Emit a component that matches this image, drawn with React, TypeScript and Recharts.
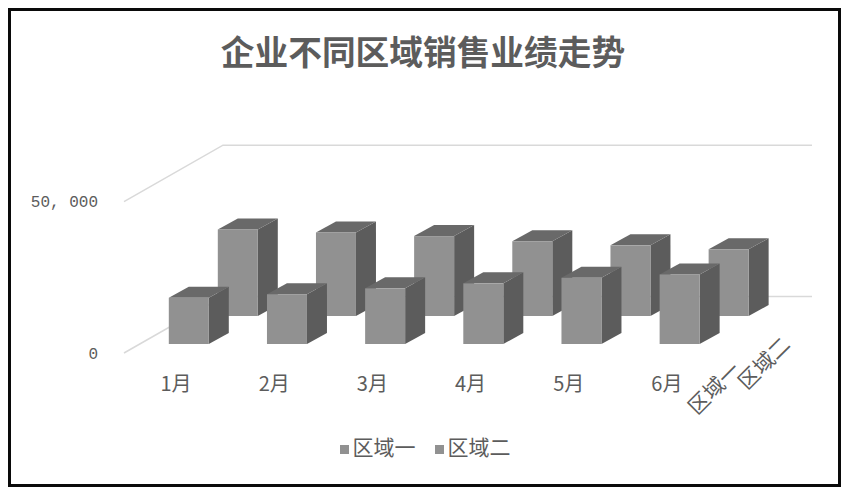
import { BarChart, Bar, XAxis, YAxis, CartesianGrid, Legend } from 'recharts'

const months = ['1月', '2月', '3月', '4月', '5月', '6月']
const region1 = [15300, 16450, 18400, 20050, 21900, 23000]
const region2 = [28600, 27600, 26400, 24700, 23350, 22050]
const seriesNames = ['区域一', '区域二']
const yTicks = [0, 50000]

const data = months.map((month, i) => ({ month, region1: region1[i], region2: region2[i] }))

const textColor = '#5c5c5c'
const faceColor = '#919191'
const topColor = '#696969'
const sideColor = '#5c5c5c'
const gridColor = '#d9d9d9'
const cjk = "'Noto Sans CJK SC', sans-serif"

// fake 3D: how far the floor runs back, and how far each bar's own depth goes
const wallDx = 99
const wallDy = -56.5
const barDx = 20
const barDy = -11

const Bar3D = (offsetX: number, offsetY: number) => (props: any) => {
  const x = props.x + offsetX
  const y = props.y + offsetY
  const { width: w, height: h } = props
  return (
    <g>
      <path d={`M${x + w},${y} l${barDx},${barDy} v${h} l${-barDx},${-barDy} z`} fill={sideColor} />
      <path d={`M${x},${y} l${barDx},${barDy} h${w} l${-barDx},${-barDy} z`} fill={topColor} />
      <rect x={x} y={y} width={w} height={h} fill={faceColor} />
    </g>
  )
}

const wallLine = (props: any) => {
  const { x1, x2, y1, key } = props
  return (
    <path
      key={key}
      d={`M${x1},${y1} L${x1 + wallDx},${y1 + wallDy} L${x2 + wallDx},${y1 + wallDy}`}
      fill="none"
      stroke={gridColor}
      strokeWidth={1.5}
    />
  )
}

export default function App() {
  return (
    <div style={{ width: 833, height: 479, boxSizing: 'border-box', border: '3px solid #0a0a0a', background: '#fff' }}>
      <BarChart
        width={827}
        height={473}
        data={data}
        barSize={40}
        barGap={-40}
        margin={{ top: 190.7, right: 125, bottom: 101, left: 23 }}
      >
        <text x={412} y={39} textAnchor="middle" dominantBaseline="central" fontFamily={cjk} fontSize={33.7} fontWeight={700} fill={textColor}>
          企业不同区域销售业绩走势
        </text>
        <CartesianGrid vertical={false} horizontal={wallLine} />
        <XAxis dataKey="month" axisLine={false} tickLine={false} tickSize={0} tickMargin={24} dx={3} tick={{ fontSize: 20, fontFamily: cjk, fill: textColor }} />
        <YAxis
          width={90}
          domain={[0, 50000]}
          ticks={yTicks}
          axisLine={false}
          tickLine={false}
          tickSize={0}
          tickMargin={26}
          tick={{ fontSize: 16, fontFamily: "'Liberation Mono', monospace", fill: textColor }}
          tickFormatter={(v: number) => v.toLocaleString('en-US').replace(',', ', ')}
        />
        <Legend
          layout="horizontal"
          verticalAlign="middle"
          align="center"
          iconType="square"
          iconSize={9}
          wrapperStyle={{ top: 420, left: 10, width: 827, fontSize: 21, fontFamily: cjk }}
          formatter={(value: string) => <span style={{ color: textColor, marginRight: 9 }}>{value}</span>}
        />
        <Bar dataKey="region2" name={seriesNames[1]} fill={faceColor} shape={Bar3D(64.8, -37)} isAnimationActive={false} />
        <Bar dataKey="region1" name={seriesNames[0]} fill={faceColor} shape={Bar3D(15.8, -9)} isAnimationActive={false} />
        <text x={702} y={376} textAnchor="middle" dominantBaseline="central" transform="rotate(-45 702 376)" fontFamily={cjk} fontSize={21} fill={textColor}>
          {seriesNames[0]}
        </text>
        <text x={752} y={351} textAnchor="middle" dominantBaseline="central" transform="rotate(-45 752 351)" fontFamily={cjk} fontSize={21} fill={textColor}>
          {seriesNames[1]}
        </text>
      </BarChart>
    </div>
  )
}
